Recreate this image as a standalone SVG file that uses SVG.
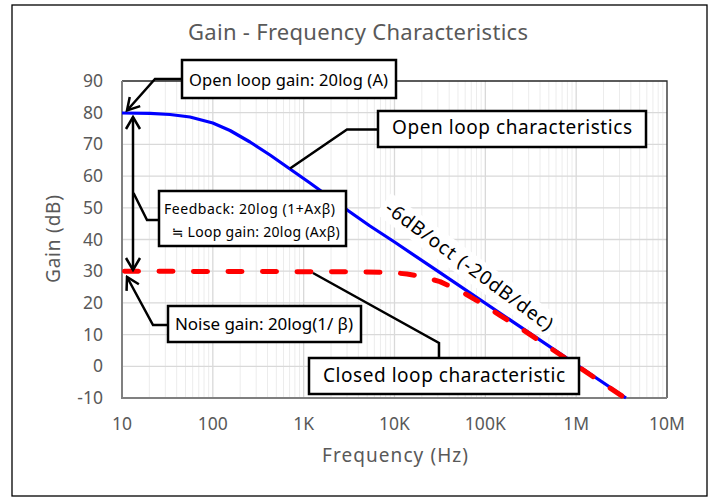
<svg xmlns="http://www.w3.org/2000/svg" width="720" height="503" viewBox="0 0 720 503">
<defs>
<style>
.lbl{font-family:"Noto Sans","Noto Sans CJK JP","DejaVu Sans",sans-serif;fill:#595959}
.bx{font-family:"Noto Sans","Noto Sans CJK JP","DejaVu Sans",sans-serif;fill:#000}
.box{fill:#fff;stroke:#000;stroke-width:2.5}
.lead{fill:none;stroke:#000;stroke-width:2.5;stroke-linejoin:miter}
.minor{stroke:#ececec;stroke-width:1}
.major{stroke:#d9d9d9;stroke-width:1.3}
</style>
<marker id="arr" viewBox="-15 -10 17 20" refX="0" refY="0" markerWidth="17" markerHeight="20" markerUnits="userSpaceOnUse" orient="auto-start-reverse">
<path d="M-12,-7 L0,0 L-12,7" fill="none" stroke="#000" stroke-width="2.5"/>
</marker>
</defs>
<rect x="12" y="5" width="695" height="491" fill="#fff" stroke="#000" stroke-width="1.3"/>
<text class="lbl" x="358" y="39.5" font-size="22" text-anchor="middle" textLength="340">Gain - Frequency Characteristics</text>

<g id="grid">
<path class="minor" d="M149.34 81V398M165.34 81V398M176.68 81V398M185.49 81V398M192.68 81V398M198.76 81V398M204.03 81V398M208.68 81V398M240.17 81V398M256.17 81V398M267.51 81V398M276.32 81V398M283.51 81V398M289.59 81V398M294.86 81V398M299.51 81V398M331.01 81V398M347.01 81V398M358.35 81V398M367.16 81V398M374.35 81V398M380.43 81V398M385.7 81V398M390.35 81V398M421.84 81V398M437.84 81V398M449.18 81V398M457.99 81V398M465.18 81V398M471.26 81V398M476.53 81V398M481.18 81V398M512.67 81V398M528.67 81V398M540.01 81V398M548.82 81V398M556.01 81V398M562.09 81V398M567.36 81V398M572.01 81V398M603.51 81V398M619.51 81V398M630.85 81V398M639.66 81V398M646.85 81V398M652.93 81V398M658.2 81V398M662.85 81V398"/>
<path class="major" d="M212.83 81V398M303.67 81V398M394.5 81V398M485.33 81V398M576.17 81V398M122 112.7H667M122 144.4H667M122 176.1H667M122 207.8H667M122 239.5H667M122 271.2H667M122 302.9H667M122 334.6H667M122 366.3H667"/>
<path d="M122 81H667V398" fill="none" stroke="#262626" stroke-width="1.3"/>
<path d="M122 81V398H667" fill="none" stroke="#808080" stroke-width="2"/>
</g>

<g id="axis-labels">
<g class="lbl" font-size="17.5" text-anchor="end">
<text x="103" y="87">90</text>
<text x="103" y="118.7">80</text>
<text x="103" y="150.4">70</text>
<text x="103" y="182.1">60</text>
<text x="103" y="213.8">50</text>
<text x="103" y="245.5">40</text>
<text x="103" y="277.2">30</text>
<text x="103" y="308.9">20</text>
<text x="103" y="340.6">10</text>
<text x="103" y="372.3">0</text>
<text x="103" y="404">-10</text>
</g>
<g class="lbl" font-size="17.5" text-anchor="middle">
<text x="122" y="430">10</text>
<text x="212.8" y="430">100</text>
<text x="303.7" y="430">1K</text>
<text x="394.5" y="430">10K</text>
<text x="485.3" y="430">100K</text>
<text x="576.2" y="430">1M</text>
<text x="667" y="430">10M</text>
</g>
<text class="lbl" font-size="19" text-anchor="middle" textLength="88" transform="translate(60,239) rotate(-90)">Gain (dB)</text>
<text class="lbl" x="395" y="462" font-size="19" text-anchor="middle" textLength="146">Frequency (Hz)</text>
</g>

<g id="slope-label">
<g transform="translate(465.3,271.1) rotate(36.4)">
<rect x="-106" y="-19" width="212" height="26" fill="#fff"/>
</g>
</g>

<g id="curves">
<polyline fill="none" stroke="#0000ff" stroke-width="3.2" stroke-linejoin="round" points="122,113 150,113.4 170,114.5 190,117 212.8,123 230,130.5 250,142 270,155 290,169 310,183 330,197.5 350,212 370,226 394.5,242 440,272.7 626,398"/>
<polyline fill="none" stroke="#ff0000" stroke-width="5" stroke-linecap="round" stroke-linejoin="round" stroke-dasharray="14 20.5" points="124.5,271.2 360,271.8 380,272.2 394.5,272.8 407,274 420,276.1 440,281.6 460,290.7 480,302.4 500,315.3 520,327.8 622,396"/>
</g>

<g id="slope-text">
<text class="bx" font-size="19" text-anchor="middle" transform="translate(465.3,271.1) rotate(36.4)" textLength="203">-6dB/oct (-20dB/dec)</text>
</g>

<g id="connectors">
<path class="lead" d="M182 79H155L127 110.5" marker-end="url(#arr)"/>
<path class="lead" d="M133 117V270" marker-start="url(#arr)" marker-end="url(#arr)"/>
<path class="lead" d="M159 220H147L133.5 193"/>
<path class="lead" d="M168 325H153L127 277" marker-end="url(#arr)"/>
<path class="lead" d="M378 129.5H347L290 168.5"/>
<path class="lead" d="M439 358V343L313 273"/>
</g>

<g id="node-open-loop-gain">
<rect class="box" x="182" y="60" width="214" height="38"/>
<text class="bx" x="189" y="86" font-size="16.5" textLength="199">Open loop gain: 20log (A)</text>
</g>
<g id="node-open-loop-char">
<rect class="box" x="378" y="111" width="268" height="36"/>
<text class="bx" x="392" y="134" font-size="19" textLength="240">Open loop characteristics</text>
</g>
<g id="node-feedback">
<rect class="box" x="159" y="191" width="187" height="55"/>
<text class="bx" x="164" y="213.5" font-size="14" textLength="171">Feedback: 20log (1+Axβ)</text>
<text class="bx" x="171.7" y="237" font-size="14" textLength="168">≒ Loop gain: 20log (Axβ)</text>
</g>
<g id="node-noise-gain">
<rect class="box" x="168" y="306" width="193" height="36"/>
<text class="bx" x="175" y="330" font-size="17" textLength="178">Noise gain: 20log(1/ β)</text>
</g>
<g id="node-closed-loop">
<rect class="box" x="309" y="358" width="270" height="36"/>
<text class="bx" x="323" y="382" font-size="19" textLength="242">Closed loop characteristic</text>
</g>
</svg>
